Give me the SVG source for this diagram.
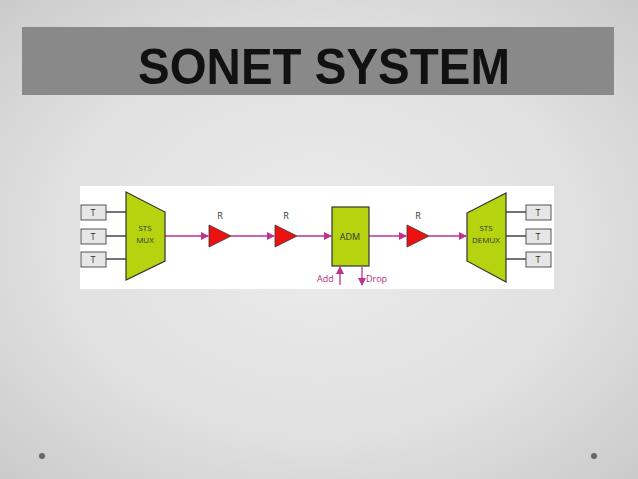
<svg xmlns="http://www.w3.org/2000/svg" width="638" height="479" viewBox="0 0 638 479">
<defs>
<radialGradient id="bg" cx="0.5" cy="0.5" r="0.7">
<stop offset="0" stop-color="#ececec"/><stop offset="0.6" stop-color="#e0e0e0"/><stop offset="1" stop-color="#cbcbcb"/>
</radialGradient>
<marker id="ah" markerWidth="8" markerHeight="8" refX="7" refY="4" orient="auto" markerUnits="userSpaceOnUse"><path d="M0,0 L8,4 L0,8 Z" fill="#c0308f"/></marker>
<style>
.t{fill:#e6e6e6;stroke:#555;stroke-width:1}
.tl{font-family:"Open Sans","Liberation Sans",sans-serif;font-size:9px;fill:#333;text-anchor:middle}
.g{fill:#b5d40f;stroke:#333;stroke-width:1.2}
.rep{fill:#ee1111;stroke:#333;stroke-width:0.8}
.w{stroke:#c0308f;stroke-width:1.3;fill:none}
.k{stroke:#444;stroke-width:1.5}
.lab{font-family:"Open Sans","Liberation Sans",sans-serif;font-size:9px;fill:#333;text-anchor:middle}
.sm{font-family:"Open Sans","Liberation Sans",sans-serif;font-size:8px;fill:#333;text-anchor:middle}
.pl{font-family:"Open Sans","Liberation Sans",sans-serif;font-size:9px;fill:#b0307f}
</style>
</defs>
<rect width="638" height="479" fill="url(#bg)"/>
<rect x="22" y="27" width="592" height="68" fill="#898989"/>
<text x="324" y="84" font-family="Liberation Sans,Arial,sans-serif" font-weight="bold" font-size="50" text-anchor="middle" fill="#111" textLength="372" lengthAdjust="spacingAndGlyphs">SONET SYSTEM</text>
<rect x="80" y="186" width="474" height="103" fill="#fff"/>
<g id="connectors">
<line class="k" x1="106" y1="212" x2="126" y2="212"/>
<line class="k" x1="106" y1="236" x2="126" y2="236"/>
<line class="k" x1="106" y1="259" x2="126" y2="259"/>
<line class="k" x1="506" y1="212" x2="526" y2="212"/>
<line class="k" x1="506" y1="236" x2="526" y2="236"/>
<line class="k" x1="506" y1="259" x2="526" y2="259"/>
<line class="w" x1="165" y1="236" x2="208" y2="236" marker-end="url(#ah)"/>
<line class="w" x1="231" y1="236" x2="274" y2="236" marker-end="url(#ah)"/>
<line class="w" x1="297" y1="236" x2="331" y2="236" marker-end="url(#ah)"/>
<line class="w" x1="369" y1="236" x2="406" y2="236" marker-end="url(#ah)"/>
<line class="w" x1="429" y1="236" x2="466" y2="236" marker-end="url(#ah)"/>
<line class="w" x1="340" y1="285" x2="340" y2="267" marker-end="url(#ah)"/>
<line class="w" x1="362" y1="267" x2="362" y2="285" marker-end="url(#ah)"/>
<text class="pl" x="317" y="282">Add</text>
<text class="pl" x="366" y="282">Drop</text>
</g>
<g id="tl1"><rect class="t" x="81" y="205" width="25" height="15"/><text class="tl" x="93" y="216">T</text></g>
<g id="tl2"><rect class="t" x="81" y="229" width="25" height="15"/><text class="tl" x="93" y="240">T</text></g>
<g id="tl3"><rect class="t" x="81" y="252" width="25" height="15"/><text class="tl" x="93" y="263">T</text></g>
<g id="mux"><polygon class="g" points="126,192 165,212 165,261 126,280"/><text class="sm" x="145" y="231">STS</text><text class="sm" x="145" y="243">MUX</text></g>
<g id="r1"><polygon class="rep" points="209,225 231,236 209,247"/><text class="lab" x="220" y="219">R</text></g>
<g id="r2"><polygon class="rep" points="275,225 297,236 275,247"/><text class="lab" x="286" y="219">R</text></g>
<g id="adm"><rect class="g" x="332" y="207" width="37" height="59"/><text class="lab" x="350" y="240">ADM</text></g>
<g id="r3"><polygon class="rep" points="407,225 429,236 407,247"/><text class="lab" x="418" y="219">R</text></g>
<g id="demux"><polygon class="g" points="467,213 506,193 506,282 467,261"/><text class="sm" x="486" y="231">STS</text><text class="sm" x="486" y="243">DEMUX</text></g>
<g id="tr1"><rect class="t" x="526" y="205" width="25" height="15"/><text class="tl" x="538" y="216">T</text></g>
<g id="tr2"><rect class="t" x="526" y="229" width="25" height="15"/><text class="tl" x="538" y="240">T</text></g>
<g id="tr3"><rect class="t" x="526" y="252" width="25" height="15"/><text class="tl" x="538" y="263">T</text></g>
<circle cx="42" cy="456" r="3" fill="#666"/>
<circle cx="594" cy="456" r="3" fill="#666"/>
</svg>
